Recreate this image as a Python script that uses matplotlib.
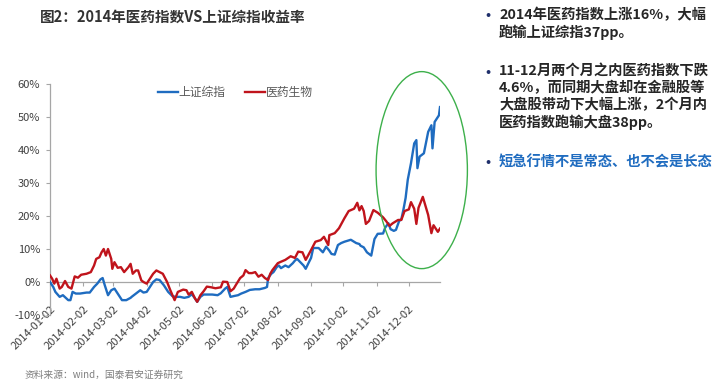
import matplotlib
matplotlib.use("Agg")
import matplotlib.pyplot as plt
import matplotlib.dates as mdates
from matplotlib.patches import Ellipse
from matplotlib.ticker import FuncFormatter
import pandas as pd

plt.rcParams['font.family'] = ['Noto Sans CJK SC', 'DejaVu Sans']

# 上证综指 (Shanghai Composite) cumulative return, %
sh_dates = ["2014-01-02","2014-01-05","2014-01-07","2014-01-11","2014-01-14","2014-01-19","2014-01-21",
            "2014-01-23","2014-01-26","2014-01-30","2014-02-05","2014-02-08","2014-02-12","2014-02-15",
            "2014-02-18","2014-02-20","2014-02-22","2014-02-25","2014-02-28","2014-03-03","2014-03-06",
            "2014-03-10","2014-03-14","2014-03-18","2014-03-19","2014-03-23","2014-03-27","2014-03-30",
            "2014-04-02","2014-04-05","2014-04-08","2014-04-11","2014-04-14","2014-04-18","2014-04-22",
            "2014-04-26","2014-04-29","2014-05-03","2014-05-07","2014-05-11","2014-05-14","2014-05-17",
            "2014-05-19","2014-05-22","2014-05-25","2014-05-28","2014-06-02","2014-06-07","2014-06-10",
            "2014-06-14","2014-06-16","2014-06-19","2014-06-23","2014-06-26","2014-06-29","2014-07-03",
            "2014-07-07","2014-07-12","2014-07-16","2014-07-21","2014-07-23","2014-07-24","2014-07-27",
            "2014-07-29","2014-08-01","2014-08-03","2014-08-05","2014-08-09","2014-08-12","2014-08-16",
            "2014-08-18","2014-08-20","2014-08-23","2014-08-26","2014-08-28","2014-08-31","2014-09-02",
            "2014-09-04","2014-09-09","2014-09-13","2014-09-16","2014-09-19","2014-09-21","2014-09-24",
            "2014-09-27","2014-09-30","2014-10-03","2014-10-06","2014-10-09","2014-10-14","2014-10-17",
            "2014-10-18","2014-10-21","2014-10-24","2014-10-28","2014-10-31","2014-11-03","2014-11-08",
            "2014-11-10","2014-11-13","2014-11-15","2014-11-18","2014-11-20","2014-11-23","2014-11-25",
            "2014-11-27","2014-11-29","2014-12-01","2014-12-04","2014-12-07","2014-12-09","2014-12-10",
            "2014-12-12","2014-12-14","2014-12-16","2014-12-20","2014-12-23","2014-12-24","2014-12-26",
            "2014-12-29","2014-12-30","2014-12-31"]
sh_vals = [0, -1.5, -3, -4.5, -4, -5.5, -5.5,
           -3, -3.5, -3.5, -3.2, -3.2, -1.5, -0.5,
           0.8, 1.2, -1, -4, -2.5, -2, -3.5,
           -5.5, -5.5, -4.8, -4.5, -3.5, -2.5, -3.2,
           -3, -1.5, 0, 0.8, 0.6, -1, -3,
           -4.3, -4.5, -4.5, -4.8, -4.5, -3.7, -5,
           -6, -4.5, -3.8, -3.8, -3.8, -4, -3.4,
           -2, -1.5, -4.5, -4.2, -4, -3.5, -3,
           -2.4, -2.2, -2.2, -1.8, -1.5, 1.2, 2.5,
           3, 4.5, 5, 4.2, 5, 4.5, 5.7,
           6.5, 7, 6, 5, 4, 6, 7.3,
           10.3, 10.3, 9, 10.7, 9.5, 8.5, 8.3,
           11.2, 11.8, 12.2, 12.5, 12.8, 11.8, 11.5,
           11, 10.5, 9, 8, 13, 14.6, 14.7,
           16.5, 17.8, 16, 15.5, 15.8, 18.5, 19,
           22, 25.5, 31, 36, 42, 43, 34.5,
           38, 38.5, 39, 45.5, 47.5, 40.5, 48.5,
           50, 50.5, 53]

# 医药生物 (Pharma & Biotech) cumulative return, %
yy_dates = ["2014-01-02","2014-01-04","2014-01-06","2014-01-08","2014-01-11","2014-01-13","2014-01-16",
            "2014-01-19","2014-01-22","2014-01-25","2014-01-28","2014-01-31","2014-02-05","2014-02-09",
            "2014-02-12","2014-02-14","2014-02-17","2014-02-19","2014-02-21","2014-02-23","2014-02-25",
            "2014-02-28","2014-03-01","2014-03-03","2014-03-06","2014-03-09","2014-03-12","2014-03-16",
            "2014-03-18","2014-03-20","2014-03-23","2014-03-25","2014-03-28","2014-03-30","2014-04-02",
            "2014-04-05","2014-04-08","2014-04-11","2014-04-14","2014-04-17","2014-04-21","2014-04-24",
            "2014-04-28","2014-05-01","2014-05-06","2014-05-09","2014-05-11","2014-05-14","2014-05-17",
            "2014-05-19","2014-05-22","2014-05-25","2014-05-28","2014-06-01","2014-06-05","2014-06-10",
            "2014-06-12","2014-06-16","2014-06-19","2014-06-22","2014-06-24","2014-06-28","2014-07-01",
            "2014-07-03","2014-07-06","2014-07-09","2014-07-12","2014-07-15","2014-07-18","2014-07-21",
            "2014-07-24","2014-07-26","2014-07-28","2014-08-02","2014-08-04","2014-08-09","2014-08-14",
            "2014-08-18","2014-08-21","2014-08-25","2014-08-28","2014-09-02","2014-09-06","2014-09-11",
            "2014-09-14","2014-09-18","2014-09-19","2014-09-24","2014-09-28","2014-10-03","2014-10-07",
            "2014-10-12","2014-10-15","2014-10-17","2014-10-19","2014-10-21","2014-10-23","2014-10-26",
            "2014-10-30","2014-11-03","2014-11-08","2014-11-11","2014-11-14","2014-11-17","2014-11-22",
            "2014-11-25","2014-11-28","2014-12-02","2014-12-04","2014-12-07","2014-12-09","2014-12-11",
            "2014-12-15","2014-12-20","2014-12-23","2014-12-25","2014-12-29","2014-12-31"]
yy_vals = [2, 1, -0.5, 1, -2, -1.5, 0.3,
           -1.5, -2, 1.7, 1.3, 2.2, 2.5, 3,
           5, 7, 7.5, 9, 10, 8, 10,
           7, 4, 6, 4.3, 4.5, 3, 4.5,
           5.5, 2.5, 3.5, 3.5, 0.5, 0, -0.5,
           1, 2.5, 3.5, 3, 2.5, 0, -2.5,
           -5.5, -3, -2.3, -2.5, -3.8, -3, -5,
           -6, -4, -2.8, -1.4, -1.6, -1.9, -1.6,
           0.1, 0, -2.8, -2, -0.9, 1.2, 2,
           3.6, 2.7, 2.7, 3, 1.6, 2.2, 1.2,
           0.6, 2.5, 3.6, 5.7, 6, 6.7, 7.8,
           7.3, 9.2, 9, 6.7, 9.7, 12.2, 12.7,
           13.7, 11.2, 14.2, 14.8, 16.3, 19.3, 21.5,
           22.2, 24, 21.7, 23, 21.5, 17.6, 18.5,
           21.8, 21, 19.6, 18.4, 17, 17.8, 18.8,
           18.8, 21.5, 22, 24.2, 22.2, 17.6, 22.5,
           25.8, 20.3, 14.8, 17.2, 15.2, 16.2]

xtick_dates = ["2014-01-02","2014-02-02","2014-03-02","2014-04-02","2014-05-02","2014-06-02",
               "2014-07-02","2014-08-02","2014-09-02","2014-10-02","2014-11-02","2014-12-02"]
yticks = [-10, 0, 10, 20, 30, 40, 50, 60]

series_names = ["上证综指", "医药生物"]
title = "图2：2014年医药指数VS上证综指收益率"
source = "资料来源：wind，国泰君安证券研究"
bullets = [
    ("2014年医药指数上涨16%，大幅\n跑输上证综指37pp。", "#262626"),
    ("11-12月两个月之内医药指数下跌\n4.6%，而同期大盘却在金融股等\n大盘股带动下大幅上涨，2个月内\n医药指数跑输大盘38pp。", "#262626"),
    ("短急行情不是常态、也不会是长态", "#1f6cc0"),
]

sh_x = pd.to_datetime(sh_dates)
yy_x = pd.to_datetime(yy_dates)
xt = pd.to_datetime(xtick_dates)

fig = plt.figure(figsize=(7.2, 3.9), dpi=100)
ax = fig.add_axes([50/720, 1-315/390, 390/720, 231/390])

ax.plot(sh_x, sh_vals, color="#1f6cc0", lw=1.7, label=series_names[0], zorder=3)
ax.plot(yy_x, yy_vals, color="#c0141c", lw=1.7, label=series_names[1], zorder=3)

ax.set_xlim(pd.Timestamp("2014-01-02"), pd.Timestamp("2014-12-31"))
ax.set_ylim(-10, 60)
ax.set_yticks(yticks)
ax.yaxis.set_major_formatter(FuncFormatter(lambda v, p: f"{v:.0f}%"))
ax.tick_params(axis='y', length=3, color="#a6a6a6", labelsize=8, labelcolor="#404040", pad=4)

ax.set_xticks(xt)
ax.set_xticklabels([d.strftime("%Y-%m-%d") for d in xt], rotation=45, ha='right',
                   rotation_mode='anchor', fontsize=8, color="#404040")
ax.tick_params(axis='x', length=0, pad=-8)

for s in ["top", "right", "bottom"]:
    ax.spines[s].set_visible(False)
ax.spines["left"].set_color("#a6a6a6")
ax.spines["left"].set_linewidth(0.9)

# horizontal axis line at 0% with tick marks
sec = ax.secondary_xaxis(1/7)
sec.set_xticks(xt)
sec.tick_params(axis='x', length=3, color="#a6a6a6", labelbottom=False, labeltop=False, direction='out')
sec.spines['bottom'].set_color("#a6a6a6")
sec.spines['bottom'].set_linewidth(0.9)
sec.xaxis.set_ticklabels([])

leg = ax.legend(loc='center', bbox_to_anchor=(0.475, 0.962), ncol=2, frameon=False,
                fontsize=8.5, handlelength=1.7, handletextpad=0.1, columnspacing=1.6)
for t in leg.get_texts():
    t.set_color("#595959")

# highlight ellipse
cx = mdates.date2num(pd.Timestamp("2014-12-14"))
ell = Ellipse((cx, 33.9), width=85, height=59.7, fill=False, edgecolor="#3db04b",
              lw=1.0, clip_on=False, zorder=4)
ax.add_patch(ell)

fig.text(40/720, 1-17/390, title, fontsize=10.5, fontweight='bold', color="#333333",
         va='center', ha='left')
fig.text(25/720, 1-375/390, source, fontsize=7, color="#7f7f7f", va='center', ha='left')

ys = [8, 65, 155]
for (txt, col), y in zip(bullets, ys):
    fig.text(488/720, 1-(y+8)/390, "•", fontsize=11, color="#1f2f6b", va='center', ha='center',
             fontweight='bold')
    fig.text(499/720, 1-y/390, txt, fontsize=10.3, fontweight='bold', color=col,
             va='top', ha='left', linespacing=1.2)

fig.savefig("out.png", dpi=100)
